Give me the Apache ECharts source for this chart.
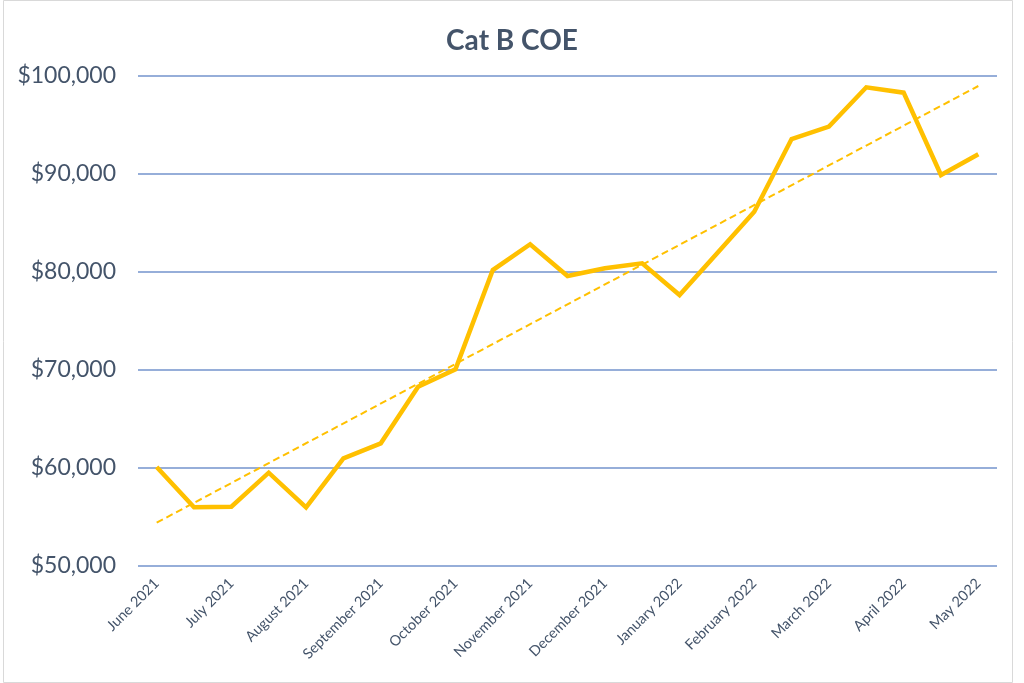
<!DOCTYPE html>
<html>
<head>
	<meta charset="UTF-8">
	<title>Cat B COE</title>
	<script src="https://cdn.jsdelivr.net/npm/echarts@6/dist/echarts.min.js"></script>
	<style>
		html, body { margin: 0; padding: 0; background: #fff; }
		#chart { width: 1024px; height: 683px; }
	</style>
</head>
<body>
<div id="chart"></div>
<script>
// 23 bidding exercises, labels shown on every other one
var categories = ['June 2021', 'Jun 2021 b', 'July 2021', 'Jul 2021 b', 'August 2021', 'Aug 2021 b',
	'September 2021', 'Sep 2021 b', 'October 2021', 'Oct 2021 b', 'November 2021', 'Nov 2021 b',
	'December 2021', 'Dec 2021 b', 'January 2022', 'Jan 2022 b', 'February 2022', 'Feb 2022 b',
	'March 2022', 'Mar 2022 b', 'April 2022', 'Apr 2022 b', 'May 2022'];
var coeValues = [60100, 55990, 56050, 59520, 55990, 60990, 62520, 68300, 70070, 80200, 82830, 79590,
	80380, 80890, 77650, 81900, 86150, 93570, 94830, 98850, 98300, 89900, 92010];
// trend line end points
var trendValues = [54420, null, null, null, null, null, null, null, null, null, null, null,
	null, null, null, null, null, null, null, null, null, null, 98980];
var yTicks = [50000, 60000, 70000, 80000, 90000, 100000];

var txtColor = '#44546A';
var fontName = 'Lato, "Open Sans", sans-serif';

function money(v) {
	return '$' + String(v).replace(/\B(?=(\d{3})+(?!\d))/g, ',');
}

var myChart = echarts.init(document.getElementById('chart'));
var option = {
	backgroundColor: '#fff',
	animation: false,
	title: {
		text: 'Cat B COE',
		left: 'center',
		top: 22,
		textStyle: {
			color: txtColor,
			fontSize: 28,
			fontWeight: 'bold',
			fontFamily: fontName
		}
	},
	graphic: [{
		type: 'rect',
		shape: { x: 3.5, y: 0.5, width: 1009, height: 682 },
		style: { fill: 'none', stroke: '#D9D9D9', lineWidth: 1 }
	}],
	grid: {
		left: 138,
		right: 27,
		top: 76,
		bottom: 117
	},
	xAxis: {
		type: 'category',
		data: categories,
		boundaryGap: true,
		axisLine: { show: false },
		axisTick: { show: false },
		axisLabel: {
			interval: 1,
			rotate: 45,
			margin: 15,
			color: txtColor,
			fontSize: 14.5,
			fontFamily: fontName
		}
	},
	yAxis: {
		type: 'value',
		min: yTicks[0],
		max: yTicks[yTicks.length - 1],
		interval: 10000,
		axisLine: { show: false },
		axisTick: { show: false },
		axisLabel: {
			margin: 22,
			color: txtColor,
			fontSize: 23,
			fontFamily: fontName,
			formatter: money
		},
		splitLine: {
			lineStyle: { color: '#7393CC', width: 1.5 }
		}
	},
	series: [
		{
			name: 'Cat B COE',
			type: 'line',
			data: coeValues,
			symbol: 'none',
			lineStyle: { color: '#FFC000', width: 4.5, join: 'miter' },
			z: 3
		},
		{
			name: 'Trend',
			type: 'line',
			data: trendValues,
			connectNulls: true,
			symbol: 'none',
			lineStyle: { color: '#FFC000', width: 2, type: [7, 4] },
			z: 2
		}
	]
};
myChart.setOption(option);
</script>
</body>
</html>
